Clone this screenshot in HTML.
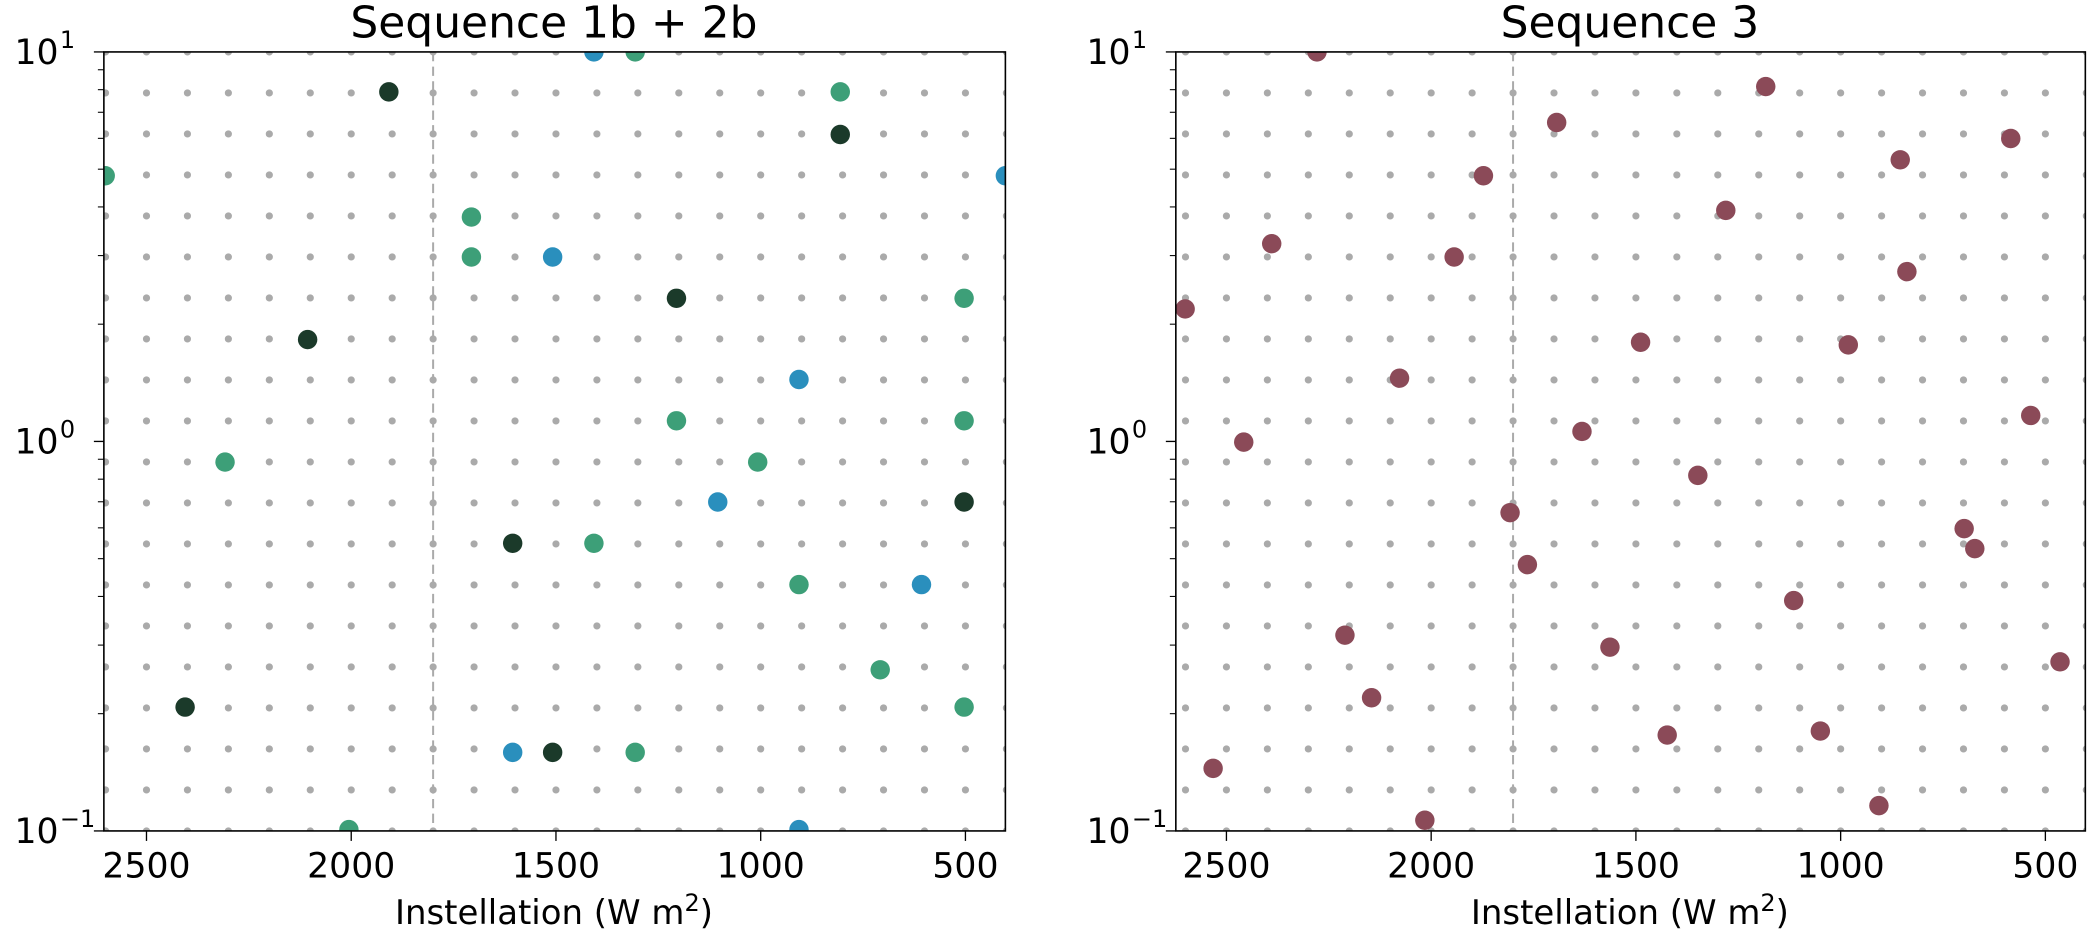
<!DOCTYPE html>
<html><head><meta charset="utf-8"><style>
html,body{margin:0;padding:0;background:#fff;}
svg{display:block;font-family:"DejaVu Sans","Liberation Sans",sans-serif;}
</style></head><body>
<svg id="s" width="2088" height="934" viewBox="0 0 1568 701.4" xmlns="http://www.w3.org/2000/svg">
<defs>
<clipPath id="c1"><rect x="78" y="39" width="677" height="585"/></clipPath>
<clipPath id="c2"><rect x="883" y="39" width="683" height="585"/></clipPath>
</defs>
<g id="g1" clip-path="url(#c1)"></g>
<g id="g2" clip-path="url(#c2)"></g>
<g id="ax"></g>
<text x="416" y="28" font-size="33" text-anchor="middle">Sequence 1b + 2b</text>
<text x="1224" y="28" font-size="33" text-anchor="middle">Sequence 3</text>
<text x="416" y="694" font-size="25.5" text-anchor="middle">Instellation (W m<tspan dy="-10" font-size="18">2</tspan><tspan dy="10">)</tspan></text>
<text x="1224" y="694" font-size="25.5" text-anchor="middle">Instellation (W m<tspan dy="-10" font-size="18">2</tspan><tspan dy="10">)</tspan></text>
</svg>
<script>
var NS="http://www.w3.org/2000/svg";
function el(p,t,a,txt){var e=document.createElementNS(NS,t);for(var k in a)e.setAttribute(k,a[k]);if(txt!==undefined)e.textContent=txt;p.appendChild(e);return e;}
var T=39,B=624,H=B-T;
var panels=[{L:78,R:755,x2500:110,g:'g1'},{L:883,R:1566,x2500:921,g:'g2'}];
var ax=document.getElementById('ax');
panels.forEach(function(p){
  var g=document.getElementById(p.g);
  function X(v){return p.x2500+(2500-v)*0.3075;}
  for(var i=0;i<20;i++){var y=T+i*H/19;
    for(var v=2600;v>=400;v-=100){el(g,'circle',{cx:X(v),cy:y,r:2.7,fill:'#aaaaaa'});}}
  el(g,'line',{x1:X(1800),x2:X(1800),y1:T,y2:B,stroke:'#aaaaaa','stroke-width':1.5,'stroke-dasharray':'7,4'});
  el(ax,'rect',{x:p.L,y:T,width:p.R-p.L,height:H,fill:'none',stroke:'#000','stroke-width':1.2});
  [2500,2000,1500,1000,500].forEach(function(v){var x=X(v);
    el(ax,'line',{x1:x,x2:x,y1:B,y2:B+7.5,stroke:'#000','stroke-width':1});
    el(ax,'text',{x:x,y:B+35,'font-size':26,'text-anchor':'middle'},String(v));});
  for(var d=-1;d<1;d++){for(var m=2;m<=9;m++){var y=B-(d+1+Math.log10(m))*H/2;
    el(ax,'line',{x1:p.L-4.5,x2:p.L,y1:y,y2:y,stroke:'#000','stroke-width':0.8});}}
  [[1,T],[0,(T+B)/2],[-1,B]].forEach(function(e){
    el(ax,'line',{x1:p.L-7.5,x2:p.L,y1:e[1],y2:e[1],stroke:'#000','stroke-width':1});
    el(ax,'text',{x:p.L-34,y:e[1]+9,'font-size':26,'text-anchor':'end'},'10');
    el(ax,'text',{x:p.L-33,y:e[1]-3,'font-size':18,'text-anchor':'start'},e[0]==-1?'\u22121':String(e[0]));
  });
});
var G='#3d9f78',BL='#2a8fbd',D='#1b3a2a',M='#8b4a58';
var pts1=[[79,131,G],[477,38,G],[631,68,G],[354,162,G],[354,192,G],[724,223,G],[508,315,G],[724,315,G],[169,346,G],[569,346,G],[446,407,G],[600,438,G],[661,502,G],[724,530,G],[477,564,G],[262,622,G],
[446,38,BL],[415,192,BL],[600,284,BL],[539,376,BL],[692,438,BL],[385,564,BL],[600,622,BL],[755,131,BL],
[292,68,D],[631,100,D],[508,223,D],[231,254,D],[724,376,D],[385,407,D],[139,530,D],[415,564,D]];
var pts2=[[989,38],[1326,64],[1169,91],[1510,103],[1427,119],[1114,131],[1296,157],[955,182],[1092,192],[1432,203],[890,231],[1232,256],[1388,258],[1051,283],[1525,311],[1188,323],[934,331],[1275,356],[1134,384],[1475,396],[1483,411],[1147,423],[1347,450],[1010,476],[1209,485],[1030,523],[1547,496],[1252,551],[1367,548],[911,576],[1411,604],[1070,615]];
var g1=document.getElementById('g1'),g2=document.getElementById('g2');
pts1.forEach(function(q){el(g1,'circle',{cx:q[0],cy:q[1]+1,r:7.3,fill:q[2]});});
pts2.forEach(function(q){el(g2,'circle',{cx:q[0],cy:q[1]+1,r:7.3,fill:M});});
</script>
</body></html>
